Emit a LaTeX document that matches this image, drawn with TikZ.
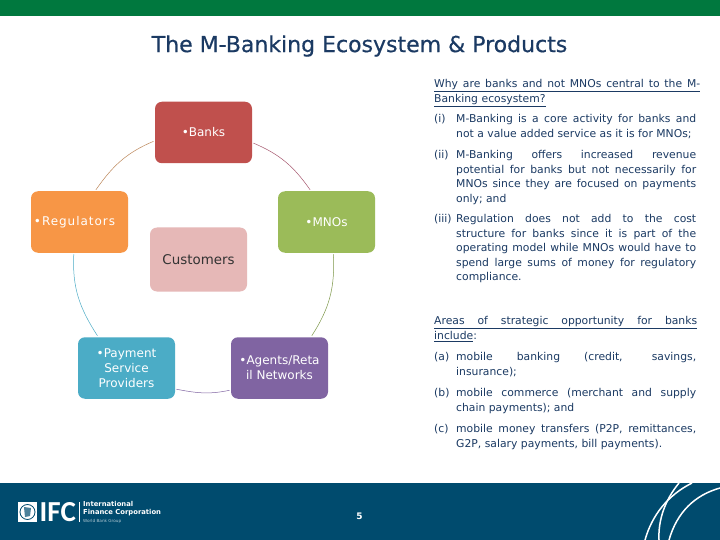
\documentclass[tikz,border=0pt]{standalone}
\usepackage{fontspec}
\setmainfont{DejaVu Sans}
\newfontfamily\titlefont[FakeBold=0.5]{DejaVu Sans}
\newfontfamily\logofont{Carlito}
\definecolor{headgreen}{HTML}{00783E}
\definecolor{footblue}{HTML}{004B6E}
\definecolor{inktext}{HTML}{1B3A63}
\definecolor{banksred}{HTML}{C0504D}
\definecolor{mnogreen}{HTML}{9BBB59}
\definecolor{agentpurple}{HTML}{8064A2}
\definecolor{payblue}{HTML}{4BACC6}
\definecolor{regorange}{HTML}{F79646}
\definecolor{custpink}{HTML}{E6B8B7}
\newcommand{\stretchline}[2]{\underline{\makebox[#1][s]{\spaceskip=.3em plus 1fil #2}}}
\tikzset{
  box/.style={rounded corners=7pt,minimum width=97pt,minimum height=61.5pt,inner sep=1pt,outer sep=1.5pt,align=center,text=white,font=\fontsize{12}{15}\selectfont},
  ring/.style={line width=0.5pt},
  body/.style={anchor=north west,inner sep=0pt,text width=240pt,align=justify,text=inktext,font=\fontsize{10.8}{14.5}\selectfont},
  itemlabel/.style={anchor=north west,inner sep=0pt,text=inktext,font=\fontsize{10.8}{14.5}\selectfont},
  headline/.style={anchor=north west,inner sep=0pt,text width=268pt,align=left,text=inktext,font=\fontsize{10.8}{14.5}\selectfont},
  swoosh/.style={white,line width=1.5pt}
}
\begin{document}
\begin{tikzpicture}[x=1pt,y=-1pt]
  \useasboundingbox (0,0) rectangle (720,540);
  \fill[white] (0,0) rectangle (720,540);
  \fill[headgreen] (0,0) rectangle (720,16);
  \fill[footblue] (0,483) rectangle (720,540);

  \node[text=inktext,font=\titlefont\fontsize{22}{26}\selectfont] (title) at (359.5,46) {The M-Banking Ecosystem \& Products};

  \node[box,fill=banksred] (banks) at (203.5,132.5) {\textbullet Banks};
  \node[box,fill=mnogreen] (mnos) at (326.5,222) {\textbullet MNOs};
  \node[box,fill=agentpurple] (agents) at (279.5,368) {\textbullet Agents/Reta\\il Networks};
  \node[box,fill=payblue] (payment) at (126.5,368) {\textbullet Payment\\Service\\Providers};
  \node[box,fill=regorange] (regulators) at (79.5,222) {\hspace*{-10pt}\addfontfeature{LetterSpace=8}\textbullet Regulators};
  \node[box,fill=custpink,text=black!80,minimum height=64pt,font=\fontsize{13.4}{16}\selectfont] (customers) at (198.5,259.5) {Customers};

  \draw[ring,banksred!60!agentpurple] (banks.-12) to[out=-23,in=125] (mnos.117);
  \draw[ring,mnogreen!80!black] (mnos.-78) to[out=-87,in=57] (agents.45);
  \draw[ring,agentpurple] (agents.204) to[out=192,in=-11] (payment.-23);
  \draw[ring,payblue] (payment.132) to[out=123,in=-93] (regulators.260);
  \draw[ring,regorange!70!black!80] (regulators.63) to[out=55,in=203] (banks.190);

  \node[headline] (why) at (434,79.5) {\stretchline{266pt}{Why are banks and not MNOs central to the M-}\\\underline{Banking ecosystem?}};
  \node[itemlabel] (iLabel) at (434,114.5) {(i)};
  \node[body] (iBody) at (456,114.5) {M-Banking is a core activity for banks and\linebreak not a value added service as it is for MNOs;};
  \node[itemlabel] (iiLabel) at (434,150.5) {(ii)};
  \node[body] (iiBody) at (456,150.5) {M-Banking offers increased revenue\linebreak potential for banks but not necessarily for\linebreak MNOs since they are focused on payments\linebreak only; and};
  \node[itemlabel] (iiiLabel) at (434,214.5) {(iii)};
  \node[body] (iiiBody) at (456,214.5) {Regulation does not add to the cost\linebreak structure for banks since it is part of the\linebreak operating model while MNOs would have to\linebreak spend large sums of money for regulatory\linebreak compliance.};

  \node[headline] (areas) at (434,316.5) {\stretchline{263pt}{Areas of strategic opportunity for banks}\\\underline{include}:};
  \node[itemlabel] (aLabel) at (434,352.5) {(a)};
  \node[body] (aBody) at (456,352.5) {mobile banking (credit, savings,\linebreak insurance);};
  \node[itemlabel] (bLabel) at (434,388.5) {(b)};
  \node[body] (bBody) at (456,388.5) {mobile commerce (merchant and supply\linebreak chain payments); and};
  \node[itemlabel] (cLabel) at (434,424.5) {(c)};
  \node[body] (cBody) at (456,424.5) {mobile money transfers (P2P, remittances,\linebreak G2P, salary payments, bill payments).};

  \node[text=white,font=\bfseries\fontsize{9}{11}\selectfont] (pagenum) at (359.5,516) {5};

  \fill[white] (18,502) rectangle (37,522);
  \draw[footblue,line width=0.8pt] (27.5,512) circle (7.5);
  \fill[footblue!70] (24,507) -- (31,508) -- (30,516) -- (25,517) -- cycle;
  \node[anchor=west,inner sep=0pt,text=white,font=\logofont\bfseries\fontsize{29}{30}\selectfont] (ifc) at (39.5,512) {IFC};
  \fill[white] (79,502) rectangle (79.7,522);
  \node[anchor=west,inner sep=0pt,text=white,align=left,font=\bfseries\fontsize{6.8}{8.2}\selectfont] (ifcname) at (83,512.5) {International\\Finance Corporation\\{\mdseries\color{white!70!footblue}\fontsize{4.2}{8.2}\selectfont World Bank Group}};

  \draw[swoosh] (645,540) .. controls (652,515) and (668,495) .. (692,483);
  \draw[swoosh] (659,540) .. controls (658,520) and (665,500) .. (679,483);
  \draw[swoosh] (669,540) .. controls (677,512) and (695,495) .. (720,488);
\end{tikzpicture}
\end{document}
